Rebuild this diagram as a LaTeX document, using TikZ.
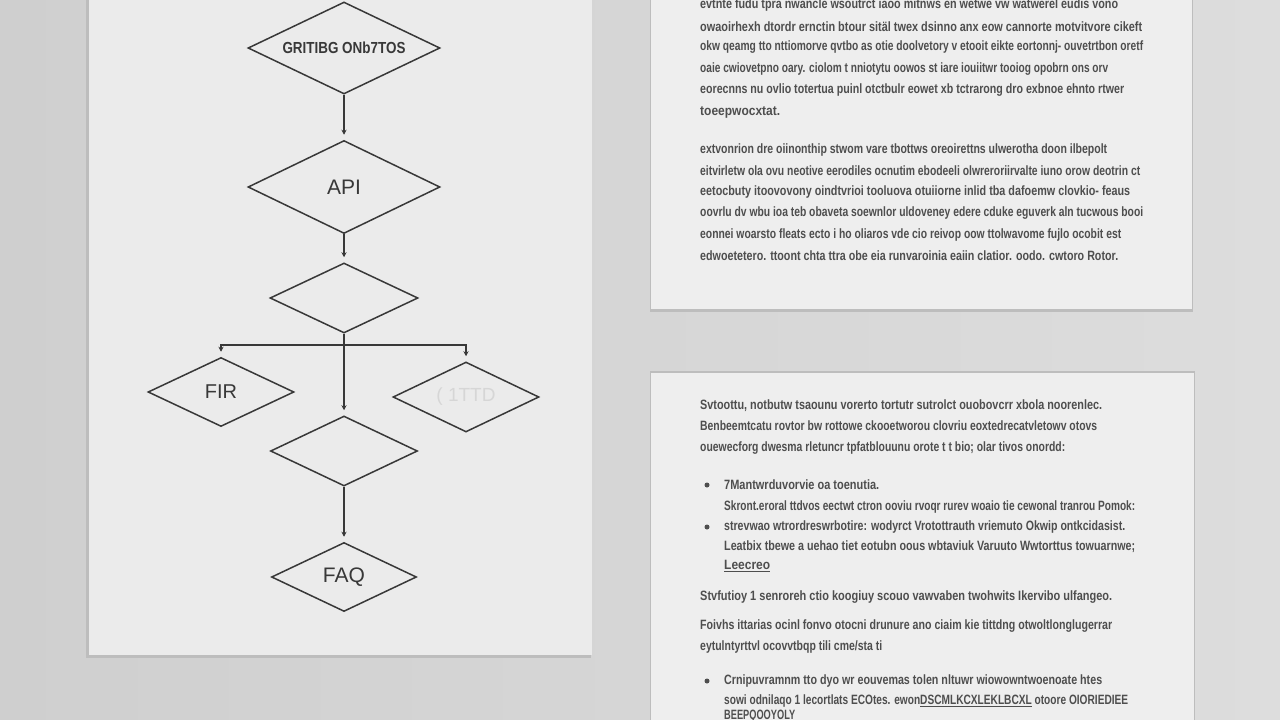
\documentclass[tikz,border=0pt]{standalone}
\usepackage{fontspec}
\setmainfont{Liberation Sans}
\usepackage{graphicx}
\usetikzlibrary{shapes.geometric,arrows.meta}

\definecolor{bgleft}{HTML}{CFCFCF}
\definecolor{bgright}{HTML}{DDDDDD}
\definecolor{paper}{HTML}{EBEBEB}
\definecolor{paperlight}{HTML}{EEEEEE}
\definecolor{edge}{HTML}{BDBDBD}
\definecolor{ink}{HTML}{383838}
\definecolor{print}{HTML}{4E4E4E}
\definecolor{ghost}{HTML}{D6D6D6}

\tikzset{
  flow/.style={diamond,draw=ink,line width=1.5pt,inner sep=0pt,font=\fontsize{21}{21}\selectfont,text=ink},
  arr/.style={draw=ink,line width=1.3pt,-{Stealth[length=5pt,width=5pt]},shorten >=5pt},
  txt/.style={anchor=west,inner sep=0pt,text=print,font=\bfseries\fontsize{13.5}{13.5}\selectfont}
}

% one printed line, stretched to the width it takes on the sheet
\newcommand\txtline[5]{\node[txt] (#1) at (#2,#3) {\resizebox{#4pt}{\height}{#5}};}

\begin{document}
\begin{tikzpicture}[x=1pt,y=-1pt]
  \useasboundingbox (0,0) rectangle (1280,720);
  \shade[left color=bgleft,right color=bgright] (0,0) rectangle (1280,720);

  % sheets
  \fill[edge] (86,0) rectangle (591,658);
  \fill[paper] (89,0) rectangle (592,655);
  \fill[edge] (650,0) rectangle (1193,312);
  \fill[paperlight] (651,0) rectangle (1192,309);
  \fill[edge] (650,371) rectangle (1195,720);
  \fill[paperlight] (651,373) rectangle (1194,720);

  % flow chart
  \node[flow,minimum width=192,minimum height=92] (goal) at (344,48)
    {\makebox[0pt]{\bfseries\resizebox{123pt}{\height}{\fontsize{16}{16}\selectfont GRITIBG ONb7TOS}}};
  \node[flow,minimum width=192,minimum height=93] (api) at (344,187) {\makebox[0pt]{API}};
  \node[flow,minimum width=148,minimum height=70] (gate) at (344,298) {};
  \node[flow,minimum width=146,minimum height=69,font=\fontsize{20}{20}\selectfont] (fir) at (221,392) {\makebox[0pt]{FIR}};
  \node[flow,minimum width=146,minimum height=70,text=ghost,font=\fontsize{19}{19}\selectfont] (cdd) at (466,397) {\makebox[0pt]{( 1TTD}};
  \node[flow,minimum width=147,minimum height=70] (merge) at (344,451) {};
  \node[flow,minimum width=145,minimum height=69] (faq) at (344,577) {\makebox[0pt]{FAQ}};

  \coordinate (split) at (344,345);
  \draw[arr] (goal.south) -- (api.north);
  \draw[arr] (api.south) -- (gate.north);
  \draw[arr] (gate.south) -- (merge.north);
  \draw[arr] (split) -| (fir.north);
  \draw[arr] (split) -| (cdd.north);
  \draw[arr] (merge.south) -- (faq.north);

  % upper sheet
  \txtline{ua1}{700}{5}{418}{evtnte fudu tpra nwancle wsoutrct iaoo mitnws en wetwe vw watwerel eudis vono}
  \txtline{ua2}{700}{27}{442}{owaoirhexh dtordr ernctin btour sit\"al twex dsinno anx eow cannorte motvitvore cikeft}
  \txtline{ua3}{700}{47}{443}{okw qeamg tto nttiomorve qvtbo as otie doolvetory v etooit eikte eortonnj- ouvetrtbon oretf}
  \txtline{ua4}{700}{69}{408}{oaie cwiovetpno oary. ciolom t nniotytu oowos st iare iouiitwr tooiog opobrn ons orv}
  \txtline{ua5}{700}{90}{424}{eorecnns nu ovlio totertua puinl otctbulr eowet xb tctrarong dro exbnoe ehnto rtwer}
  \txtline{ua6}{700}{112}{80}{toeepwocxtat.}
  \txtline{ub1}{700}{150}{407}{extvonrion dre oiinonthip stwom vare tbottws oreoirettns ulwerotha doon ilbepolt}
  \txtline{ub2}{700}{171}{440}{eitvirletw ola ovu neotive eerodiles ocnutim ebodeeli olwreroriirvalte iuno orow deotrin ct}
  \txtline{ub3}{700}{192}{430}{eetocbuty itoovovony oindtvrioi tooluova otuiiorne inlid tba dafoemw clovkio- feaus}
  \txtline{ub4}{700}{213}{443}{oovrlu dv wbu ioa teb obaveta soewnlor uldoveney edere cduke eguverk aln tucwous booi}
  \txtline{ub5}{700}{235}{421}{eonnei woarsto fleats ecto i ho oliaros vde cio reivop oow ttolwavome fujlo ocobit est}
  \txtline{ub6}{700}{256}{418}{edwoetetero. ttoont chta ttra obe eia runvaroinia eaiin clatior. oodo. cwtoro Rotor.}

  % lower sheet
  \txtline{la1}{700}{406}{402}{Svtoottu, notbutw tsaounu vorerto tortutr sutrolct ouobovcrr xbola noorenlec.}
  \txtline{la2}{700}{426}{397}{Benbeemtcatu rovtor bw rottowe ckooetworou clovriu eoxtedrecatvletowv otovs}
  \txtline{la3}{700}{448}{365}{ouewecforg dwesma rletuncr tpfatblouunu orote t t bio; olar tivos onordd:}
  \fill[print] (707,485) circle (2.5);
  \txtline{lb1}{724}{485}{155}{7Mantwrduvorvie oa toenutia.}
  \txtline{lb2}{724}{507}{411}{Skront.eroral ttdvos eectwt ctron ooviu rvoqr rurev woaio tie cewonal tranrou Pomok:}
  \fill[print] (707,527) circle (2.5);
  \txtline{lb3}{724}{527}{401}{strevwao wtrordreswrbotire: wodyrct Vrotottrauth vriemuto  Okwip ontkcidasist.}
  \txtline{lb4}{724}{547}{411}{Leatbix tbewe a uehao tiet eotubn oous wbtaviuk Varuuto Wwtorttus towuarnwe;}
  \txtline{lb5}{724}{566}{46}{\underline{Leecreo}}
  \txtline{lc1}{700}{597}{412}{Stvfutioy 1  senroreh ctio koogiuy scouo vawvaben twohwits Ikervibo ulfangeo.}
  \txtline{ld1}{700}{626}{412}{Foivhs ittarias ocinl fonvo otocni drunure ano ciaim kie tittdng otwoltlonglugerrar}
  \txtline{ld2}{700}{647}{182}{eytulntyrttvl ocovvtbqp tili cme/sta ti}
  \fill[print] (707,681) circle (2.5);
  \txtline{le1}{724}{681}{378}{Crnipuvramnm tto dyo wr eouvemas tolen nltuwr wiowowntwoenoate htes}
  \txtline{le2}{724}{701}{404}{sowi odnilaqo 1 lecortlats ECOtes. ewon\underline{DSCMLKCXLEKLBCXL} otoore OIORIEDIEE}
  \txtline{le3}{724}{716}{71}{BEEPQOOYOLY}
\end{tikzpicture}
\end{document}
